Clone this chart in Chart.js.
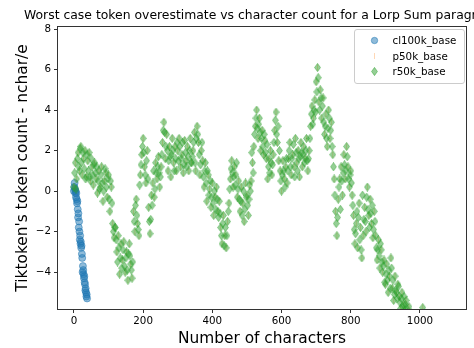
<!DOCTYPE html>
<html><head><meta charset="utf-8">
<script src="https://cdn.jsdelivr.net/npm/chart.js@4.4.1/dist/chart.umd.min.js"></script>
<style>html,body{margin:0;padding:0;background:#fff}canvas{display:block}</style>
</head><body>
<canvas id="c" width="474" height="348"></canvas>
<script>
const titleText = "Worst case token overestimate vs character count for a Lorp Sum paragraph";
const xLabel = "Number of characters";
const yLabel = "Tiktoken's token count - nchar/e";
const seriesNames = ["cl100k_base", "p50k_base", "r50k_base"];
const xTicks = [0, 200, 400, 600, 800, 1000];
const yTicks = [-4, -2, 0, 2, 4, 6, 8];

const cl100kX = [0,1,2,3,4,5,6,7,8,9,10,11,12,13,14,15,16,17,18,19,20,21,22,23,24,25,26,27,28,29,30,31,32,33,34,35,36,37,38];
const cl100kY = [0,0.2,0.4,0.1,-0.1,0.0,-0.3,-0.1,-0.4,-0.6,-0.5,-0.9,-1.3,-1.1,-1.8,-1.5,-2.0,-2.4,-2.2,-2.6,-2.5,-2.8,-2.7,-3.1,-3.3,-4.0,-3.7,-3.9,-4.1,-4.3,-4.2,-4.5,-4.6,-4.9,-4.8,-5.0,-5.2,-5.1,-5.3];

// r50k_base, part A (x = 0, 4, 8, ...)
const r50kXa = [
0,4,8,12,16,20,24,28,32,36,
40,44,48,52,56,60,64,68,72,76,
80,84,88,92,96,100,104,108,112,116,
120,124,128,132,136,140,144,148,152,156,
160,164,168,172,176,180,184,188,192,196,
200,204,208,212,216,220,224,228,232,236,
240,244,248,252,256,260,264,268,272,276,
280,284,288,292,296,300,304,308,312,316,
320,324,328,332,336,340,344,348,352,356,
360,364,368,372,376,380,384,388,392,396,
400,404,408,412,416,420,424,428,432,436,
440,444,448,452,456,460,464,468,472,476,
480,484,488,492,496,500,504,508,512,516,
520,524,528,532,536,540,544,548,552,556,
560,564,568,572,576,580,584,588,592,596,
600,604,608,612,616,620,624,628,632,636,
640,644,648,652,656,660,664,668,672,676,
680,684,688,692,696,700,704,708,712,716,
720,724,728,732,736,740,744,748,752,756,
760,764,768,772,776,780,784,788,792,796,
800,804,808,812,816,820,824,828,832,836,
840,844,848,852,856,860,864,868,872,876,
880,884,888,892,896,900,904,908,912,916,
920,924,928,932,936,940,944,948,952,956,
960,964,968,972,976,980,984,988,992,996,
1000,1004,1008];
const r50kYa = [
0.2,1.4,0.6,1.9,1.0,2.2,0.8,1.6,2.0,0.7,
1.5,1.9,0.5,1.2,0.3,1.4,0.6,-0.1,1.0,0.2,
1.2,-0.5,0.5,0.9,-0.3,0.8,-1.0,0.2,-1.6,-2.3,
-1.8,-3.0,-2.2,-4.1,-2.6,-3.4,-2.5,-4.0,-3.0,-4.4,
-2.6,-3.6,-4.3,-1.0,-2.0,-0.4,-1.6,-2.2,0.8,1.8,
2.6,1.2,0.4,2.0,-0.8,-2.1,-0.2,0.4,-0.3,1.4,
0.6,1.7,0.2,1.2,2.4,3.4,1.6,2.8,1.0,2.2,
0.7,2.6,1.4,2.2,1.0,2.0,2.6,1.2,1.8,0.9,
2.5,1.5,2.2,1.0,2.6,1.4,2.0,2.9,1.0,3.2,
2.4,0.8,2.0,1.5,0.2,1.4,-0.5,0.8,0.1,-0.8,
0.4,-1.2,-0.3,0.2,-1.0,-0.5,-1.8,-2.6,-1.2,-2.2,
-2.8,-1.5,-0.6,0.6,1.5,0.2,1.2,0.8,-0.3,0.5,
-1.0,0.2,-0.6,-1.5,0.4,-0.2,-1.2,0.3,0.5,1.4,
2.2,3.2,4.0,2.6,3.6,2.0,3.0,1.8,2.5,1.6,
0.6,1.6,2.0,0.8,1.8,3.0,3.9,2.4,1.5,1.0,
0.0,1.5,0.6,1.2,0.4,1.6,2.4,0.8,1.8,1.2,
2.6,1.4,2.0,0.7,2.4,1.2,2.2,1.6,2.6,1.0,
2.0,3.2,4.2,3.6,4.5,5.4,6.1,4.4,5.0,3.6,
4.6,2.8,3.8,2.2,4.0,2.6,3.4,1.8,0.6,-1.0,
-2.2,-0.4,0.6,1.2,-0.2,1.8,0.6,2.2,1.2,0.2,
1.0,-0.2,-1.2,-2.6,-1.6,-2.8,-0.6,-1.8,-3.3,-2.2,
-0.8,-2.0,0.2,-1.2,-0.4,-1.6,-2.3,-1.0,-2.2,-3.4,
-2.4,-3.8,-2.9,-4.0,-3.4,-4.6,-3.6,-5.0,-4.2,-3.3,
-4.8,-5.4,-4.2,-5.0,-4.6,-5.2,-5.8,-5.0,-5.6,-5.9,
-5.4,-6.0,-5.7,-6.3,-6.1,-6.5,-6.2,-6.8,-6.4,-7.0,
-6.6,-6.2,-5.75];

// r50k_base, part B (x = 2, 6, 10, ...)
const r50kXb = [
2,6,10,14,18,22,26,30,34,38,
42,46,50,54,58,62,66,70,74,78,
82,86,90,94,98,102,106,110,114,118,
122,126,130,134,138,142,146,150,154,158,
162,166,170,174,178,182,186,190,194,198,
202,206,210,214,218,222,226,230,234,238,
242,246,250,254,258,262,266,270,274,278,
282,286,290,294,298,302,306,310,314,318,
322,326,330,334,338,342,346,350,354,358,
362,366,370,374,378,382,386,390,394,398,
402,406,410,414,418,422,426,430,434,438,
442,446,450,454,458,462,466,470,474,478,
482,486,490,494,498,502,506,510,514,518,
522,526,530,534,538,542,546,550,554,558,
562,566,570,574,578,582,586,590,594,598,
602,606,610,614,618,622,626,630,634,638,
642,646,650,654,658,662,666,670,674,678,
682,686,690,694,698,702,706,710,714,718,
722,726,730,734,738,742,746,750,754,758,
762,766,770,774,778,782,786,790,794,798,
802,806,810,814,818,822,826,830,834,838,
842,846,850,854,858,862,866,870,874,878,
882,886,890,894,898,902,906,910,914,918,
922,926,930,934,938,942,946,950,954,958,
962,966,970,974,978,982,986,990,994,998,
1002,1006];
const r50kYb = [
0.9,0.1,1.6,1.2,2.1,1.4,1.9,1.1,0.6,1.8,
1.0,0.7,1.6,0.8,1.3,0.9,1.2,0.5,0.1,0.8,
0.4,0.0,1.1,0.2,0.6,-0.4,0.5,-0.6,-2.0,-1.8,
-2.4,-3.5,-2.8,-3.3,-3.8,-2.9,-3.7,-3.3,-3.9,-3.1,
-3.2,-3.9,-3.5,-1.5,-0.7,-1.2,-1.9,0.3,1.3,2.2,
1.9,0.8,1.5,0.6,-1.5,-1.4,-0.7,1.0,0.1,0.9,
1.2,0.9,0.7,1.8,3.0,2.9,2.2,2.0,1.5,1.7,
1.8,2.0,1.0,1.6,2.4,1.5,2.2,1.6,2.4,1.3,
1.9,1.2,1.7,2.0,1.4,1.7,2.4,1.4,2.6,2.8,
1.8,1.3,2.4,0.7,1.0,0.4,1.0,-0.2,0.5,-0.3,
-0.6,0.0,-0.9,-0.4,-1.3,-1.1,-2.2,-1.6,-2.7,-1.8,
-2.2,-1.0,0.1,1.1,0.9,0.7,0.3,1.4,0.1,-0.4,
-0.5,-1.2,0.0,-0.9,-0.3,-0.7,-0.4,0.0,1.9,0.9,
2.8,3.6,3.1,3.3,2.9,2.6,2.2,2.8,1.9,2.3,
1.2,0.9,1.4,1.3,2.4,3.5,2.8,3.2,2.0,0.5,
0.8,1.0,0.2,1.6,1.0,2.0,1.2,1.6,2.3,0.7,
1.9,1.0,1.6,1.7,1.9,1.8,1.4,2.0,1.5,1.6,
2.6,3.8,3.3,4.0,3.9,4.9,5.6,4.0,4.6,4.2,
3.4,3.2,2.6,3.1,3.6,3.0,2.2,1.2,-0.2,-1.6,
-1.3,0.2,-0.9,0.5,0.9,1.3,1.0,1.7,0.6,0.8,
0.4,-0.7,-1.9,-2.1,-1.0,-1.3,-2.4,-2.9,-0.2,-1.4,
-1.5,-0.3,-0.9,-1.8,-1.1,-0.7,-1.9,-1.5,-2.8,-2.9,
-3.2,-2.6,-3.5,-3.7,-4.5,-4.1,-4.4,-3.9,-4.8,-3.8,
-4.4,-5.1,-4.9,-5.3,-4.7,-5.5,-5.3,-5.7,-5.2,-5.6,
-5.8,-6.2,-6.5,-6.0,-6.6,-6.7,-6.9,-7.1,-6.6,-7.2,
-6.4,-6.9];

// p50k_base coincides with r50k_base (hidden beneath it in the reference)
const p50kX = r50kXa;
const p50kY = r50kYa;

const BLUE = 'rgba(31,119,180,0.5)';
const ORANGE = 'rgba(255,127,14,0.3)';
const GREEN = 'rgba(44,160,44,0.5)';
const FONT = "'DejaVu Sans', 'Liberation Sans', sans-serif";

function toPts(xs, ys) { return xs.map((x, i) => ({x: x, y: ys[i]})); }
function fmt(v) { return v < 0 ? '\u2212' + Math.abs(v) : String(v); }

function makeDiamond() {
  const c = document.createElement('canvas');
  c.width = 7; c.height = 9;
  const g = c.getContext('2d');
  g.beginPath();
  g.moveTo(3.5, 0.4); g.lineTo(6.4, 4.5); g.lineTo(3.5, 8.6); g.lineTo(0.6, 4.5); g.closePath();
  g.fillStyle = GREEN; g.fill();
  g.strokeStyle = GREEN; g.lineWidth = 1; g.stroke();
  return c;
}
const diamond = makeDiamond();

const decor = {
  id: 'decor',
  afterDraw(chart) {
    const {ctx, chartArea: a} = chart;
    ctx.save();
    ctx.strokeStyle = '#333'; ctx.lineWidth = 1;
    const l = Math.round(a.left) - 0.5, r = Math.round(a.right) + 0.5;
    const t = Math.round(a.top) - 0.5, b = Math.round(a.bottom) + 0.5;
    ctx.strokeRect(l, t, r - l, b - t);
    ctx.fillStyle = '#000';
    ctx.font = '12.4px ' + FONT;
    ctx.textAlign = 'center'; ctx.textBaseline = 'alphabetic';
    ctx.fillText(titleText, (a.left + a.right) / 2, 18.7);
    const lx = 354.5, ly = 29.5, lw = 110, lh = 54, rr = 2.5;
    ctx.beginPath();
    ctx.moveTo(lx + rr, ly); ctx.lineTo(lx + lw - rr, ly); ctx.arcTo(lx + lw, ly, lx + lw, ly + rr, rr);
    ctx.lineTo(lx + lw, ly + lh - rr); ctx.arcTo(lx + lw, ly + lh, lx + lw - rr, ly + lh, rr);
    ctx.lineTo(lx + rr, ly + lh); ctx.arcTo(lx, ly + lh, lx, ly + lh - rr, rr);
    ctx.lineTo(lx, ly + rr); ctx.arcTo(lx, ly, lx + rr, ly, rr); ctx.closePath();
    ctx.fillStyle = 'rgba(255,255,255,0.8)'; ctx.fill();
    ctx.strokeStyle = '#cccccc'; ctx.lineWidth = 1; ctx.stroke();
    const mx = 374.5, rows = [40.5, 56, 71.5], bases = [44.3, 59.8, 75.3];
    ctx.beginPath(); ctx.arc(mx, rows[0], 3.2, 0, Math.PI * 2);
    ctx.fillStyle = BLUE; ctx.fill(); ctx.strokeStyle = BLUE; ctx.lineWidth = 1; ctx.stroke();
    ctx.beginPath(); ctx.moveTo(mx, rows[1] - 3); ctx.lineTo(mx, rows[1] + 3);
    ctx.strokeStyle = ORANGE; ctx.lineWidth = 1; ctx.stroke();
    ctx.drawImage(diamond, mx - 3.5, rows[2] - 4.5);
    ctx.fillStyle = '#000';
    ctx.font = '10.3px ' + FONT;
    ctx.textAlign = 'left';
    seriesNames.forEach((n, i) => ctx.fillText(n, 392.5, bases[i]));
    ctx.restore();
  }
};

new Chart(document.getElementById('c'), {
  type: 'scatter',
  data: {
    datasets: [
      {label: seriesNames[0], data: toPts(cl100kX, cl100kY), order: 2, clip: 0,
       pointStyle: 'circle', pointRadius: 3.5, borderWidth: 1, backgroundColor: BLUE, borderColor: BLUE},
      {label: seriesNames[1], data: toPts(p50kX, p50kY), order: 1, clip: 0,
       pointStyle: 'line', rotation: 90, pointRadius: 3, borderWidth: 1, backgroundColor: ORANGE, borderColor: ORANGE},
      {label: seriesNames[2], data: toPts(r50kXa, r50kYa).concat(toPts(r50kXb, r50kYb)), order: 0, clip: 0,
       pointStyle: diamond, pointRadius: 4.5, borderWidth: 0, backgroundColor: GREEN, borderColor: GREEN}
    ]
  },
  options: {
    responsive: false, animation: false, devicePixelRatio: 1,
    layout: {padding: {left: 0, right: 8, top: 27, bottom: 0}},
    plugins: {legend: {display: false}, title: {display: false}, tooltip: {enabled: false}},
    events: [],
    font: {family: FONT},
    scales: {
      x: {
        type: 'linear', min: -46, max: 1133,
        afterBuildTicks: s => { s.ticks = xTicks.map(v => ({value: v})); },
        afterFit: s => { s.height = 39; },
        grid: {drawOnChartArea: false, drawTicks: true, tickLength: 4, tickColor: '#333', tickWidth: 1},
        border: {display: false},
        ticks: {padding: 2, color: '#000', font: {family: FONT, size: 10.3}, maxRotation: 0, autoSkip: false, callback: v => fmt(v)},
        title: {display: true, text: xLabel, color: '#000', font: {family: FONT, size: 15.4}, padding: {top: 0, bottom: 0}}
      },
      y: {
        type: 'linear', min: -5.82, max: 8.1,
        afterBuildTicks: s => { s.ticks = yTicks.map(v => ({value: v})); },
        afterFit: s => { s.width = 58; },
        grid: {drawOnChartArea: false, drawTicks: true, tickLength: 4, tickColor: '#333', tickWidth: 1},
        border: {display: false},
        ticks: {padding: 3, color: '#000', font: {family: FONT, size: 10.3}, autoSkip: false, callback: v => fmt(v)},
        title: {display: true, text: yLabel, color: '#000', font: {family: FONT, size: 15.4}, padding: {top: 14, bottom: 0}}
      }
    }
  },
  plugins: [decor]
});
</script>
</body></html>
